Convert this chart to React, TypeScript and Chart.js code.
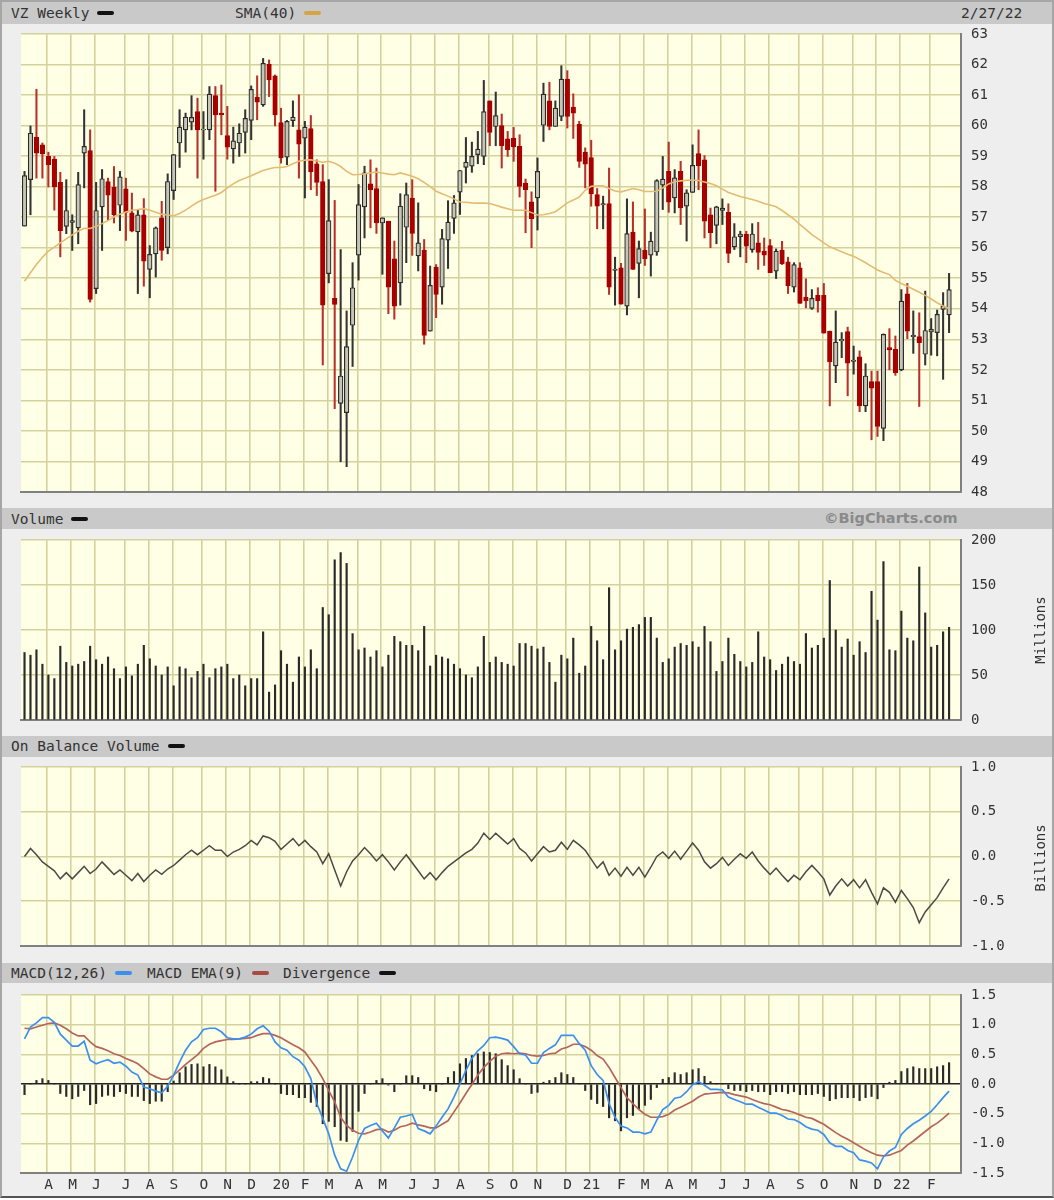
import React, { useEffect, useRef } from "react";
import { Chart, registerables } from "chart.js";

Chart.register(...registerables);

const highs = [58.5,59.99,61.19,59.43,59.13,58.99,58.47,58.23,57.08,58.47,60.52,59.86,58.14,58.56,58.28,58.66,58.5,58.28,57.79,57.23,57.61,56.07,56.68,57.52,58.42,59.05,60.52,60.41,60.98,60.9,60.46,61.28,61.28,61.33,60.63,59.95,60.06,60.52,61.3,61.63,62.2,62.15,61.66,60.57,60.17,60.81,61.01,60.14,60.33,58.88,58.72,58.23,57.55,55.94,53.93,55.51,58.07,58.67,58.88,58.61,56.98,56.87,56.22,57.77,58.12,58.23,57.47,56.27,55.4,55.45,56.6,57.54,57.71,58.53,59.61,59.46,59.81,61.48,60.81,61.1,60.38,59.81,59.94,59.7,58.25,57.83,58.94,61.39,61.42,60.81,61.96,61.8,61.04,60.14,59.27,59.52,57.94,57.69,58.61,55.69,55.49,57.6,57.5,56.22,57.27,56.51,58.23,58.99,59.46,58.56,58.83,57.9,59.37,59.86,59.02,57.3,57.36,57.6,57.44,56.79,56.54,56.54,56.79,56.83,56.32,56.27,55.96,56.21,55.69,55.51,55.51,54.98,54.63,54.69,54.83,53.27,53.93,53.22,53.4,52.78,52.62,52.2,51.96,51.96,53.18,53.35,53.11,54.63,54.83,53.93,53.87,54.58,53.68,53.96,54.53,55.16];
const lows = [56.71,57.08,58.28,58.28,57.99,57.23,55.7,56.46,55.91,56.13,57.96,54.22,54.5,55.91,56.92,56.81,56.56,56.24,56.52,54.5,54.74,54.36,55.04,55.59,55.8,57.58,58.63,59.13,59.86,58.28,58.9,59.54,57.85,59.7,58.9,58.77,58.99,59.1,59.54,60.19,60.63,60.95,59.99,58.77,58.72,59.97,58.28,57.63,57.9,57.71,52.16,54.85,50.73,48.99,48.83,52.11,54.94,56.32,56.65,56.47,55.13,53.84,53.66,54.12,55.51,55.75,55.24,52.84,53.27,53.71,54.15,55.32,56.47,57.09,58.12,58.47,58.75,58.72,59.34,59.34,58.61,58.99,58.83,57.66,56.49,56.0,56.58,59.48,59.86,59.97,60.16,59.92,59.58,58.63,57.96,57.36,56.62,56.62,54.47,54.12,54.15,53.8,55.29,54.36,55.42,55.07,55.75,57.25,57.16,57.14,56.76,56.22,57.81,57.9,56.32,56.0,56.13,56.76,55.51,55.94,55.7,55.51,55.85,55.29,55.42,55.18,54.99,55.45,54.5,54.55,54.18,54.03,53.98,53.89,53.2,50.82,51.58,52.4,51.15,51.86,50.63,50.63,49.71,49.82,49.68,52.0,51.82,51.97,53.02,52.54,50.8,52.16,52.48,52.46,51.69,53.22];
const opens = [56.71,58.23,59.62,59.37,58.99,58.9,58.14,56.7,56.83,56.65,59.1,59.18,54.66,57.34,58.17,57.99,57.39,57.93,57.14,56.52,57.08,55.29,55.8,56.98,56.0,57.87,59.43,59.86,60.11,60.46,59.86,59.86,60.98,60.41,59.67,59.24,59.43,59.78,60.17,60.93,60.68,62.01,61.63,60.1,58.97,60.16,59.86,59.59,59.9,58.75,58.17,55.15,54.34,50.9,50.6,53.46,55.76,57.34,58.09,57.94,56.81,56.87,55.64,54.85,56.67,57.63,55.73,55.92,53.27,55.37,54.71,56.25,56.96,57.82,58.63,58.67,59.05,58.99,60.81,59.97,60.0,59.57,59.59,59.32,58.12,57.5,57.63,60.01,60.81,59.97,60.3,61.52,60.61,60.04,59.13,58.95,57.74,57.4,57.45,55.26,55.34,54.09,56.51,55.49,55.92,55.76,55.86,58.05,58.5,57.63,58.5,57.36,57.81,59.08,58.88,57.08,56.73,57.22,57.16,56.03,56.36,56.45,55.94,56.16,55.89,56.07,55.23,55.92,55.54,54.71,55.34,54.38,54.01,54.44,54.44,53.27,52.13,52.95,53.25,52.28,52.43,50.82,51.62,51.62,50.08,52.73,52.67,52.0,54.49,53.09,53.09,52.51,53.24,53.22,53.98,53.8];
const closes = [58.36,59.75,59.1,59.07,58.72,57.99,56.56,57.22,56.89,58.07,59.32,54.31,57.22,58.26,57.72,57.08,58.32,57.16,56.54,57.08,55.56,55.78,56.65,55.91,58.17,59.05,59.95,60.28,60.27,59.86,59.88,61.03,60.35,60.35,59.29,59.5,59.75,60.24,61.19,60.77,62.04,61.5,60.35,58.94,60.14,60.28,59.39,59.95,58.48,58.14,54.12,56.89,54.14,51.8,52.76,54.69,57.41,58.45,57.9,56.81,56.98,54.71,54.09,57.36,57.74,56.47,56.16,53.13,54.77,54.47,56.3,56.84,57.47,58.53,58.8,58.99,59.23,60.46,59.78,60.33,59.34,59.21,59.3,58.01,57.9,56.95,58.5,61.03,59.97,60.57,61.52,60.3,60.41,58.83,58.74,57.77,57.36,57.45,54.71,55.3,54.15,56.46,55.29,55.97,55.64,56.22,58.2,58.25,57.49,58.29,57.3,57.8,58.7,58.69,56.87,56.49,57.34,57.3,55.81,56.36,56.45,56.05,56.45,55.85,55.76,55.18,55.89,55.47,54.76,55.45,54.18,54.27,54.34,54.27,53.2,52.26,52.91,53.0,52.22,52.32,50.82,51.8,51.4,50.15,53.16,52.65,51.91,54.25,53.27,53.13,52.89,53.29,53.33,53.82,54.09,54.63];
const sma40 = [54.9,55.18,55.45,55.69,55.89,56.02,56.16,56.29,56.42,56.54,56.64,56.63,56.7,56.79,56.89,57.01,57.1,57.17,57.23,57.25,57.28,57.23,57.16,57.1,57.07,57.05,57.12,57.23,57.36,57.49,57.58,57.65,57.72,57.81,57.96,58.09,58.2,58.28,58.36,58.45,58.53,58.59,58.63,58.63,58.66,58.75,58.83,58.87,58.88,58.84,58.8,58.83,58.77,58.66,58.5,58.39,58.4,58.42,58.45,58.48,58.45,58.41,58.39,58.45,58.4,58.34,58.26,58.14,58.0,57.85,57.77,57.69,57.6,57.5,57.49,57.47,57.46,57.46,57.45,57.39,57.33,57.28,57.23,57.23,57.23,57.15,57.07,57.08,57.12,57.18,57.32,57.47,57.56,57.66,57.88,58.01,58.03,58.03,57.94,57.86,57.83,57.88,57.94,57.9,57.84,57.84,57.85,57.96,58.09,58.16,58.19,58.21,58.22,58.2,58.15,58.1,58.03,57.92,57.81,57.74,57.68,57.63,57.58,57.52,57.45,57.4,57.34,57.22,57.08,56.94,56.76,56.6,56.43,56.3,56.16,56.03,55.95,55.87,55.79,55.72,55.62,55.51,55.39,55.27,55.19,55.12,54.93,54.83,54.74,54.64,54.54,54.44,54.32,54.2,54.09,54.01];
const volume = [75,72,78,62,50,46,82,64,60,62,65,82,67,62,70,57,46,59,49,62,83,68,60,50,59,38,59,57,47,54,62,47,57,59,62,46,50,38,46,46,98,31,39,77,62,42,70,59,78,57,125,117,178,186,174,96,78,80,70,77,59,72,93,87,83,83,77,104,60,72,70,68,62,57,50,47,59,93,64,70,64,62,60,85,85,82,79,81,64,42,72,68,91,52,60,104,88,67,147,78,88,101,103,106,114,114,91,64,68,81,85,83,87,81,104,87,54,65,91,73,65,59,64,98,70,67,55,62,70,65,62,96,80,83,91,155,100,81,90,72,87,75,143,111,176,78,77,121,91,88,170,119,81,83,98,103];
const obv = [0,0.09,0.02,-0.06,-0.11,-0.16,-0.25,-0.18,-0.25,-0.18,-0.11,-0.19,-0.14,-0.06,-0.13,-0.2,-0.15,-0.21,-0.27,-0.19,-0.28,-0.21,-0.15,-0.2,-0.14,-0.1,-0.04,0.02,0.07,0.02,0.07,0.12,0.07,0.07,0,0.05,0.08,0.12,0.18,0.13,0.23,0.21,0.17,0.08,0.14,0.2,0.12,0.18,0.11,0.05,-0.08,0.03,-0.15,-0.33,-0.17,-0.05,0.02,0.1,0.03,-0.05,0.02,-0.06,-0.15,-0.06,0.02,-0.07,-0.16,-0.25,-0.18,-0.26,-0.18,-0.11,-0.06,-0.01,0.04,0.08,0.15,0.26,0.19,0.26,0.2,0.14,0.2,0.09,0.04,-0.05,0.03,0.11,0.05,0.07,0.16,0.08,0.18,0.13,0.07,-0.03,-0.13,-0.06,-0.21,-0.13,-0.22,-0.12,-0.21,-0.12,-0.23,-0.12,0,0.05,-0.02,0.06,-0.03,0.06,0.15,0.07,-0.06,-0.13,-0.08,-0.01,-0.1,-0.03,0.03,-0.02,0.05,-0.05,-0.13,-0.2,-0.13,-0.21,-0.28,-0.21,-0.26,-0.17,-0.1,-0.17,-0.25,-0.43,-0.33,-0.25,-0.33,-0.26,-0.35,-0.26,-0.4,-0.53,-0.35,-0.4,-0.51,-0.38,-0.47,-0.57,-0.74,-0.62,-0.54,-0.46,-0.35,-0.25];
const macd = [0.76,0.96,1.03,1.12,1.12,1.04,0.84,0.74,0.64,0.64,0.72,0.4,0.34,0.38,0.41,0.35,0.37,0.3,0.2,0.15,-0.05,-0.08,-0.12,-0.15,-0.04,0.15,0.37,0.57,0.71,0.78,0.92,0.94,0.94,0.88,0.78,0.76,0.76,0.79,0.84,0.93,0.98,0.89,0.71,0.61,0.57,0.46,0.4,0.29,0.09,-0.33,-0.58,-0.84,-1.2,-1.43,-1.47,-1.23,-0.95,-0.75,-0.7,-0.66,-0.79,-0.91,-0.74,-0.56,-0.54,-0.51,-0.75,-0.79,-0.84,-0.71,-0.56,-0.42,-0.22,0,0.23,0.43,0.56,0.65,0.78,0.79,0.77,0.74,0.63,0.51,0.49,0.35,0.35,0.53,0.6,0.66,0.82,0.82,0.82,0.68,0.57,0.31,0.16,0.06,-0.33,-0.56,-0.71,-0.74,-0.81,-0.81,-0.84,-0.81,-0.61,-0.43,-0.36,-0.24,-0.22,-0.13,-0.01,0.04,-0.02,-0.09,-0.09,-0.1,-0.22,-0.26,-0.3,-0.34,-0.34,-0.39,-0.44,-0.49,-0.49,-0.53,-0.59,-0.6,-0.65,-0.72,-0.76,-0.78,-0.85,-0.99,-1.05,-1.05,-1.12,-1.16,-1.28,-1.3,-1.33,-1.43,-1.23,-1.13,-1.07,-0.85,-0.75,-0.67,-0.61,-0.54,-0.46,-0.35,-0.23,-0.12];
const macdEma = [0.94,0.93,0.96,0.99,1.02,1.03,0.99,0.93,0.86,0.81,0.81,0.71,0.63,0.6,0.56,0.51,0.48,0.43,0.39,0.34,0.26,0.17,0.12,0.08,0.08,0.15,0.24,0.33,0.41,0.49,0.6,0.67,0.71,0.73,0.75,0.75,0.76,0.77,0.78,0.82,0.85,0.85,0.82,0.78,0.72,0.66,0.61,0.54,0.4,0.26,0.09,-0.11,-0.3,-0.56,-0.7,-0.78,-0.83,-0.84,-0.81,-0.77,-0.76,-0.81,-0.78,-0.72,-0.7,-0.66,-0.69,-0.71,-0.74,-0.74,-0.68,-0.62,-0.47,-0.32,-0.16,-0.01,0.15,0.28,0.38,0.47,0.51,0.52,0.51,0.52,0.51,0.48,0.47,0.48,0.51,0.52,0.59,0.62,0.67,0.67,0.63,0.57,0.48,0.42,0.28,0.11,-0.06,-0.23,-0.33,-0.43,-0.51,-0.56,-0.56,-0.55,-0.51,-0.44,-0.39,-0.34,-0.29,-0.22,-0.17,-0.16,-0.15,-0.14,-0.15,-0.18,-0.2,-0.22,-0.26,-0.3,-0.33,-0.35,-0.39,-0.43,-0.45,-0.48,-0.52,-0.56,-0.58,-0.63,-0.68,-0.75,-0.82,-0.88,-0.93,-0.99,-1.05,-1.11,-1.16,-1.2,-1.21,-1.2,-1.16,-1.12,-1.03,-0.96,-0.88,-0.8,-0.72,-0.66,-0.58,-0.49];
const divergence = [-0.18,0,0.06,0.09,0.06,0,-0.16,-0.21,-0.25,-0.21,-0.11,-0.35,-0.33,-0.21,-0.19,-0.21,-0.13,-0.16,-0.21,-0.21,-0.28,-0.33,-0.29,-0.29,-0.13,0.05,0.19,0.29,0.33,0.34,0.29,0.33,0.29,0.24,0.12,0.04,0,0,0.04,0.04,0.11,0.09,0,-0.16,-0.18,-0.18,-0.23,-0.23,-0.31,-0.38,-0.67,-0.63,-0.72,-0.95,-0.97,-0.8,-0.46,-0.16,0,0.06,0.09,-0.02,-0.13,0,0.14,0.14,0.11,-0.08,-0.11,-0.13,0,0.11,0.21,0.34,0.43,0.48,0.51,0.54,0.53,0.51,0.41,0.31,0.24,0.09,0,-0.16,-0.14,0.03,0.06,0.11,0.19,0.16,0.11,0,-0.11,-0.26,-0.33,-0.38,-0.57,-0.62,-0.79,-0.57,-0.53,-0.42,-0.36,-0.26,-0.06,0.08,0.11,0.19,0.16,0.19,0.24,0.26,0.13,0.04,0,0,-0.08,-0.11,-0.11,-0.13,-0.11,-0.13,-0.13,-0.18,-0.13,-0.13,-0.16,-0.13,-0.18,-0.18,-0.18,-0.16,-0.21,-0.28,-0.25,-0.23,-0.23,-0.23,-0.28,-0.23,-0.21,-0.25,-0.06,0.03,0.06,0.21,0.26,0.29,0.26,0.26,0.26,0.29,0.31,0.36];
const monthStarts = [4,8,12,17,21,25,30,34,38,43,47,51,56,60,65,69,73,78,82,86,91,95,100,104,108,112,117,121,125,130,134,139,143,147,152];
const monthLabels = ["A","M","J","J","A","S","O","N","D","20","F","M","A","M","J","J","A","S","O","N","D","21","F","M","A","M","J","J","A","S","O","N","D","22","F"];

const MONO = '"DejaVu Sans Mono", monospace';
const GRID = "#d3d29c";
const PLOT = "#ffffe6";
const EDGE = "#808080";
const DARK = "#333333";
const RED = "#a80000";
const RED_WICK = "#b8302c";
const UP_FILL = "#c6c6b6";

const plotBackground = {
  id: "plotBackground",
  beforeDraw(chart: any) {
    const { ctx, chartArea: a } = chart;
    ctx.save();
    ctx.fillStyle = PLOT;
    ctx.fillRect(a.left, a.top, a.right - a.left, a.bottom - a.top);
    ctx.restore();
  },
};

const points = (values: number[]) => values.map((y, x) => ({ x, y }));

function buildConfig(datasets: any[], yMin: number, yMax: number, step: number, opts: { labels?: boolean; format?: (v: number) => string; zeroLine?: boolean }) {
  return {
    data: { datasets },
    plugins: [plotBackground],
    options: {
      animation: false,
      responsive: false,
      events: [],
      layout: { padding: { left: 21, right: 0, top: 10, bottom: opts.labels ? 0 : 10 } },
      plugins: { legend: { display: false }, tooltip: { enabled: false } },
      scales: {
        x: {
          type: "linear",
          offset: false,
          min: -0.59,
          max: 157,
          afterBuildTicks(scale: any) {
            scale.ticks = monthStarts.map((m) => ({ value: m - 0.2 }));
          },
          afterFit(scale: any) {
            scale.height = opts.labels ? 24 : 0;
            scale.paddingLeft = 0;
            scale.paddingRight = 0;
          },
          grid: { color: GRID, lineWidth: 1.6, drawTicks: false, offset: false },
          border: { color: EDGE, width: 2 },
          ticks: {
            display: !!opts.labels,
            autoSkip: false,
            maxRotation: 0,
            minRotation: 0,
            padding: 4,
            labelOffset: 1.5,
            color: DARK,
            font: { family: MONO, size: 14.5 },
            callback: (_v: any, i: number) => monthLabels[i],
          },
        },
        y: {
          position: "right",
          min: yMin,
          max: yMax,
          afterFit(scale: any) {
            scale.width = 93;
            scale.paddingTop = 0;
            scale.paddingBottom = 0;
          },
          grid: {
            lineWidth: 1.6,
            drawTicks: false,
            color: (c: any) => (opts.zeroLine && Math.abs(c.tick.value) < 1e-6 ? "#222222" : GRID),
          },
          border: { color: EDGE, width: 2 },
          ticks: {
            stepSize: step,
            padding: 10,
            color: DARK,
            font: { family: MONO, size: 14 },
            callback: (v: any) => (opts.format ? opts.format(Number(v)) : String(v)),
          },
        },
      },
    },
  };
}

const barSet = (values: number[]) => ({
  type: "bar",
  data: points(values),
  barThickness: 1.5,
  backgroundColor: "#2a2a2a",
  borderWidth: 0,
  order: 3,
});

const lineSet = (values: number[], color: string, width: number, order: number) => ({
  type: "line",
  data: points(values),
  borderColor: color,
  borderWidth: width,
  pointRadius: 0,
  tension: 0,
  order,
});

const isUp = (i: number) => closes[i] >= opens[i];

const priceDatasets = [
  lineSet(sma40, "#e3bb72", 1.6, 0),
  {
    type: "bar",
    grouped: false,
    data: opens.map((o, i) => ({ x: i, y: [o, closes[i]] })),
    barThickness: 4.6,
    backgroundColor: (c: any) => (isUp(c.dataIndex) ? UP_FILL : RED),
    borderColor: (c: any) => (isUp(c.dataIndex) ? "#2a2a2a" : RED),
    borderWidth: 1.2,
    borderSkipped: false,
    order: 1,
  },
  {
    type: "bar",
    grouped: false,
    data: highs.map((h, i) => ({ x: i, y: [lows[i], h] })),
    barThickness: 1.4,
    backgroundColor: (c: any) => (isUp(c.dataIndex) ? DARK : RED_WICK),
    borderWidth: 0,
    order: 2,
  },
];

const headerBand = (top: number, height: number): React.CSSProperties => ({
  position: "absolute",
  left: 2,
  right: 2,
  top,
  height,
  background: "#c9c9c9",
});

const label = (left: number, centerY: number): React.CSSProperties => ({
  position: "absolute",
  left,
  top: centerY - 10,
  height: 20,
  font: `14.5px/20px ${MONO}`,
  color: DARK,
  whiteSpace: "pre",
});

const swatch = (left: number, centerY: number, color: string): React.CSSProperties => ({
  position: "absolute",
  left,
  top: centerY - 2,
  width: 17,
  height: 4,
  borderRadius: 2,
  background: color,
});

const rotated = (centerY: number): React.CSSProperties => ({
  position: "absolute",
  left: 1040 - 40,
  width: 80,
  top: centerY - 10,
  height: 20,
  textAlign: "center",
  font: `14px/20px ${MONO}`,
  color: DARK,
  transform: "rotate(-90deg)",
});

const panels = [
  { top: 34, bottom: 492 },
  { top: 540, bottom: 720 },
  { top: 767, bottom: 946 },
  { top: 995, bottom: 1173 },
];

export default function App() {
  const refs = [useRef<HTMLCanvasElement>(null), useRef<HTMLCanvasElement>(null), useRef<HTMLCanvasElement>(null), useRef<HTMLCanvasElement>(null)];

  useEffect(() => {
    document.body.style.margin = "0";
    const oneDec = (v: number) => v.toFixed(1);
    const configs = [
      buildConfig(priceDatasets, 48, 63, 1, {}),
      buildConfig([barSet(volume)], 0, 200, 50, {}),
      buildConfig([lineSet(obv, "#4a4a44", 1.5, 0)], -1, 1, 0.5, { format: oneDec }),
      buildConfig(
        [lineSet(macd, "#3d8fee", 1.7, 0), lineSet(macdEma, "#b5655c", 1.7, 1), barSet(divergence)],
        -1.5,
        1.5,
        0.5,
        { format: oneDec, labels: true, zeroLine: true }
      ),
    ];
    const charts = configs.map((cfg, i) => new Chart(refs[i].current as HTMLCanvasElement, cfg as any));
    return () => charts.forEach((c) => c.destroy());
  }, []);

  return (
    <div
      style={{
        position: "relative",
        width: 1054,
        height: 1198,
        boxSizing: "border-box",
        background: "#eeeeee",
        overflow: "hidden",
      }}
    >
      <div style={headerBand(2, 22)} />
      <div style={headerBand(508, 21)} />
      <div style={headerBand(736, 21)} />
      <div style={headerBand(963, 20)} />

      {panels.map((p, i) => {
        const h = p.bottom - p.top + 10 + (i === 3 ? 24 : 10);
        return (
          <canvas
            key={i}
            ref={refs[i]}
            width={1054}
            height={h}
            style={{ position: "absolute", left: 0, top: p.top - 10, display: "block" }}
          />
        );
      })}

      <div style={label(11, 13)}>VZ Weekly</div>
      <div style={swatch(97, 13, "#111111")} />
      <div style={label(235, 13)}>SMA(40)</div>
      <div style={swatch(304, 13, "#d3a544")} />
      <div style={label(961, 13)}>2/27/22</div>

      <div style={label(11, 519)}>Volume</div>
      <div style={swatch(71, 519, "#111111")} />
      <div
        style={{
          position: "absolute",
          left: 824,
          top: 508,
          height: 21,
          font: 'bold 14.5px/21px "DejaVu Sans", sans-serif',
          color: "#8a8a8a",
          whiteSpace: "pre",
        }}
      >
        ©BigCharts.com
      </div>

      <div style={label(11, 746)}>On Balance Volume</div>
      <div style={swatch(168, 746, "#111111")} />

      <div style={label(11, 973)}>MACD(12,26)</div>
      <div style={swatch(115, 973, "#3d8fee")} />
      <div style={label(147, 973)}>MACD EMA(9)</div>
      <div style={swatch(252, 973, "#a84a44")} />
      <div style={label(283, 973)}>Divergence</div>
      <div style={swatch(379, 973, "#111111")} />

      <div style={rotated(630)}>Millions</div>
      <div style={rotated(858)}>Billions</div>

      <div
        style={{
          position: "absolute",
          inset: 0,
          borderLeft: "2px solid #a6a6a6",
          borderRight: "2px solid #a6a6a6",
          borderTop: "2px solid #a6a6a6",
          borderBottom: "2px solid #555555",
          pointerEvents: "none",
        }}
      />
    </div>
  );
}
